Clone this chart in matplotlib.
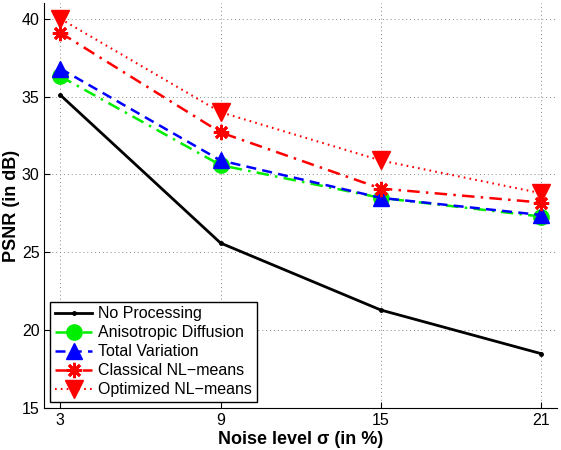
import numpy as np
import matplotlib
matplotlib.use('Agg')
from matplotlib import pyplot as plt

plt.rcParams['font.family'] = ['Liberation Sans', 'DejaVu Sans']

noise = [3, 9, 15, 21]
no_processing = [35.1, 25.6, 21.3, 18.5]
anisotropic = [36.3, 30.6, 28.5, 27.3]
total_variation = [36.8, 30.9, 28.5, 27.4]
classical_nlm = [39.1, 32.7, 29.1, 28.2]
optimized_nlm = [40.0, 34.0, 30.9, 28.8]

fig = plt.figure(figsize=(5.61, 4.5), dpi=100)
ax = fig.add_axes([0.079, 0.093, 0.914, 0.9])

ax.plot(noise, no_processing, color='k', ls='-', lw=2, marker='.', ms=5,
        label='No Processing')
ax.plot(noise, anisotropic, color='#00ee00', ls=(0, (5, 2.5, 1, 2.5)), lw=1.8, marker='o', ms=11,
        label='Anisotropic Diffusion')
ax.plot(noise, total_variation, color='#0000ff', ls=(0, (4, 2.5)), lw=1.8, marker='^', ms=12,
        label='Total Variation')
ax.plot(noise, classical_nlm, color='#ff0000', ls=(0, (5, 2.5, 1, 2.5)), lw=1.8, marker=(8, 2, 0), ms=11,
        mew=2, label='Classical NL\u2212means')
ax.plot(noise, optimized_nlm, color='#ff0000', ls=(0, (0.8, 2)), lw=1.5, marker='v', ms=13,
        label='Optimized NL\u2212means')

ax.set_xlim(2.4, 21.6)
ax.set_ylim(15, 41)
ax.set_xticks(noise)
ax.set_yticks([15, 20, 25, 30, 35, 40])
ax.grid(True, ls=(0, (1, 3)), color='#888888', lw=0.7)
ax.spines['top'].set_visible(False)
ax.spines['right'].set_visible(False)
ax.tick_params(direction='in', labelsize=11.5, length=4)

ax.set_xlabel('Noise level \u03c3 (in %)', fontsize=13, fontweight='bold', labelpad=2)
ax.set_ylabel('PSNR (in dB)', fontsize=13, fontweight='bold', labelpad=1)

leg = ax.legend(loc='lower left', bbox_to_anchor=(0.012, 0.015), borderaxespad=0,
                fontsize=11.5, fancybox=False, framealpha=1, edgecolor='k',
                handlelength=2.3, labelspacing=0.25, borderpad=0.3, handletextpad=0.4)
leg.get_frame().set_linewidth(1)

plt.savefig('out.png', dpi=100)
